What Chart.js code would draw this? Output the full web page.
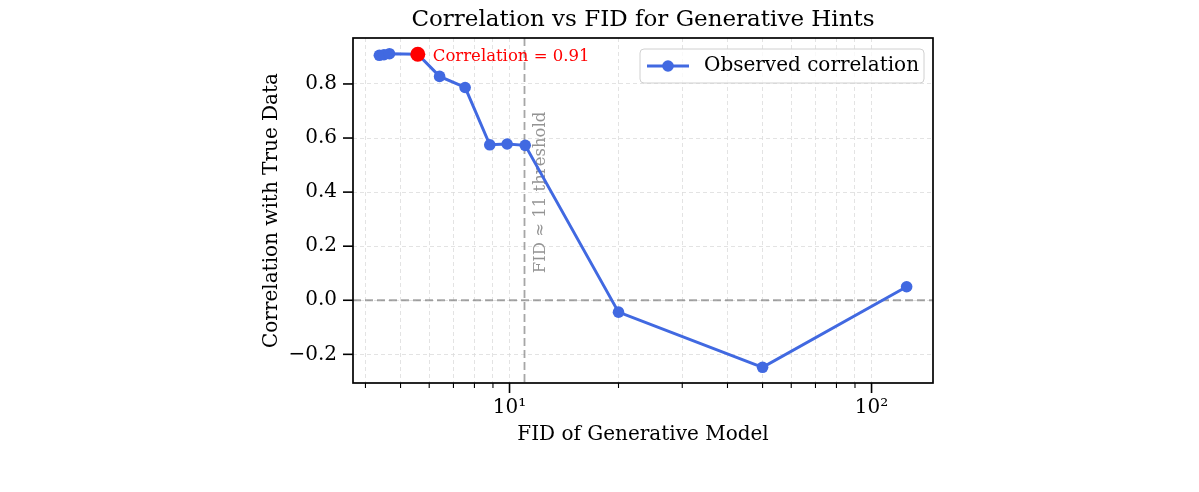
<!DOCTYPE html>
<html>
<head>
<meta charset="utf-8">
<script src="https://cdn.jsdelivr.net/npm/chart.js@4.4.0/dist/chart.umd.min.js"></script>
<style>
  html, body { margin: 0; padding: 0; background: #fff; }
  #wrap { width: 1199px; height: 492px; }
</style>
</head>
<body>
<div id="wrap"><canvas id="grafico"></canvas></div>
<script>
// valores
const fidValues = [4.37, 4.5, 4.66, 5.58, 6.41, 7.54, 8.82, 9.85, 11.05, 20, 50, 125];
const correlations = [0.906, 0.908, 0.912, 0.91, 0.828, 0.787, 0.575, 0.578, 0.573, -0.044, -0.248, 0.05];
const highlightFid = [5.58];
const highlightCorr = [0.91];
const thresholdFid = 11;
const xTicks = [4, 5, 6, 7, 8, 9, 10, 20, 30, 40, 50, 60, 70, 80, 90, 100];
const xMajor = [10, 100];
const xMajorLabels = ['10\u00b9', '10\u00b2'];
const yTicks = [-0.2, 0, 0.2, 0.4, 0.6, 0.8];

const SERIF = '"DejaVu Serif", serif';
const BLUE = '#4169E1';

// margens de 5% como no matplotlib (x em escala log)
const lx = fidValues.map(v => Math.log10(v));
const lmin = Math.min(...lx), lmax = Math.max(...lx), lm = (lmax - lmin) * 0.05;
const ymn = Math.min(...correlations), ymx = Math.max(...correlations), ym = (ymx - ymn) * 0.05;

// linhas de referência, textos, marcas dos eixos, moldura e legenda
const decoracoes = {
  id: 'decoracoes',
  beforeDatasetsDraw(chart) {
    const { ctx, chartArea: a, scales: { x, y } } = chart;
    ctx.save();
    ctx.strokeStyle = 'rgba(128,128,128,0.7)';
    ctx.lineWidth = 1.8;
    ctx.setLineDash([8, 4]);
    const y0 = y.getPixelForValue(0);
    ctx.beginPath(); ctx.moveTo(a.left, y0); ctx.lineTo(a.right, y0); ctx.stroke();
    const xt = x.getPixelForValue(thresholdFid);
    ctx.beginPath(); ctx.moveTo(xt, a.top); ctx.lineTo(xt, a.bottom); ctx.stroke();
    ctx.setLineDash([]);
    // texto vertical do limiar
    ctx.translate(x.getPixelForValue(thresholdFid * 1.05), y.getPixelForValue(0.1));
    ctx.rotate(-Math.PI / 2);
    ctx.font = '16.5px ' + SERIF;
    ctx.fillStyle = 'rgba(128,128,128,0.85)';
    ctx.textAlign = 'left';
    ctx.textBaseline = 'top';
    ctx.fillText('FID \u2248 11 threshold', 0, 0);
    ctx.restore();
  },
  afterDatasetsDraw(chart) {
    const { ctx, scales: { x, y } } = chart;
    ctx.save();
    ctx.font = '16.5px ' + SERIF;
    ctx.fillStyle = 'red';
    ctx.textAlign = 'left';
    ctx.textBaseline = 'middle';
    ctx.fillText('Correlation = ' + highlightCorr[0].toFixed(2),
      x.getPixelForValue(highlightFid[0] * 1.1), y.getPixelForValue(highlightCorr[0]) + 2);
    ctx.restore();
  },
  afterDraw(chart) {
    const { ctx, chartArea: a, scales: { x, y } } = chart;
    ctx.save();
    // marcas
    ctx.strokeStyle = '#000';
    xTicks.forEach(v => {
      const major = xMajor.includes(v);
      const px = x.getPixelForValue(v);
      ctx.lineWidth = major ? 1.6 : 1.1;
      ctx.beginPath(); ctx.moveTo(px, a.bottom); ctx.lineTo(px, a.bottom + (major ? 10 : 5)); ctx.stroke();
    });
    ctx.lineWidth = 1.6;
    yTicks.forEach(v => {
      const py = y.getPixelForValue(v);
      ctx.beginPath(); ctx.moveTo(a.left, py); ctx.lineTo(a.left - 10, py); ctx.stroke();
    });
    // moldura
    ctx.lineWidth = 1.7;
    ctx.strokeRect(a.left, a.top, a.right - a.left, a.bottom - a.top);
    // legenda
    const bx = a.right - 9, by = a.top + 11, bw = 284, bh = 34;
    ctx.beginPath();
    ctx.roundRect(bx - bw, by, bw, bh, 4);
    ctx.fillStyle = 'rgba(255,255,255,0.8)';
    ctx.fill();
    ctx.strokeStyle = '#d0d0d0';
    ctx.lineWidth = 1;
    ctx.stroke();
    const ly = by + bh / 2;
    const ds = chart.data.datasets[0];
    ctx.strokeStyle = ds.borderColor;
    ctx.lineWidth = ds.borderWidth;
    ctx.beginPath(); ctx.moveTo(bx - bw + 7, ly); ctx.lineTo(bx - bw + 49, ly); ctx.stroke();
    ctx.fillStyle = ds.backgroundColor;
    ctx.beginPath(); ctx.arc(bx - bw + 28, ly, ds.pointRadius, 0, Math.PI * 2); ctx.fill();
    ctx.font = '20px ' + SERIF;
    ctx.fillStyle = '#000';
    ctx.textAlign = 'left';
    ctx.textBaseline = 'middle';
    ctx.fillText(ds.label, bx - bw + 64, ly);
    ctx.restore();
  }
};

const ctx = document.getElementById('grafico').getContext('2d');
new Chart(ctx, {
  type: 'scatter',
  data: {
    datasets: [{
      label: 'Observed correlation',
      data: fidValues.map((v, i) => ({ x: v, y: correlations[i] })),
      showLine: true,
      borderColor: BLUE,
      backgroundColor: BLUE,
      borderWidth: 3,
      pointRadius: 5.8,
      pointHoverRadius: 5.8,
      pointBorderWidth: 0,
      order: 1
    }, {
      label: 'highlight',
      data: highlightFid.map((v, i) => ({ x: v, y: highlightCorr[i] })),
      backgroundColor: 'red',
      borderColor: 'red',
      pointRadius: 7.5,
      pointBorderWidth: 0,
      order: 0
    }]
  },
  options: {
    responsive: true,
    maintainAspectRatio: false,
    animation: false,
    events: [],
    layout: { padding: { left: 260, right: 266, top: 0, bottom: 45 } },
    plugins: {
      legend: { display: false },
      tooltip: { enabled: false },
      title: {
        display: true,
        fullSize: false,
        text: 'Correlation vs FID for Generative Hints',
        color: '#000',
        font: { family: SERIF, size: 23, weight: 'normal', lineHeight: 1.2 },
        padding: { top: 6, bottom: 4.4 }
      }
    },
    scales: {
      x: {
        type: 'logarithmic',
        min: Math.pow(10, lmin - lm),
        max: Math.pow(10, lmax + lm),
        afterBuildTicks: s => { s.ticks = xTicks.map(v => ({ value: v })); },
        afterFit: s => { s.height = 64; },
        grid: { color: '#dcdcdc', lineWidth: 0.8, drawTicks: false },
        border: { display: false, dash: [4, 3] },
        ticks: {
          autoSkip: false,
          maxRotation: 0,
          padding: 13,
          color: '#000',
          font: { family: SERIF, size: 20 },
          callback: v => { const i = xMajor.indexOf(v); return i >= 0 ? xMajorLabels[i] : ''; }
        },
        title: {
          display: true,
          text: 'FID of Generative Model',
          color: '#000',
          font: { family: SERIF, size: 20, lineHeight: 1.2 },
          padding: 0
        }
      },
      y: {
        min: ymn - ym,
        max: ymx + ym,
        afterBuildTicks: s => { s.ticks = yTicks.map(v => ({ value: v })); },
        afterFit: s => { s.width = 93; },
        grid: { color: '#dcdcdc', lineWidth: 0.8, drawTicks: false },
        border: { display: false, dash: [4, 3] },
        ticks: {
          padding: 16,
          color: '#000',
          font: { family: SERIF, size: 20 },
          callback: v => v.toFixed(1).replace('-', '\u2212')
        },
        title: {
          display: true,
          text: 'Correlation with True Data',
          color: '#000',
          font: { family: SERIF, size: 20, lineHeight: 1.2 },
          padding: 0
        }
      }
    }
  },
  plugins: [decoracoes]
});
</script>
</body>
</html>
